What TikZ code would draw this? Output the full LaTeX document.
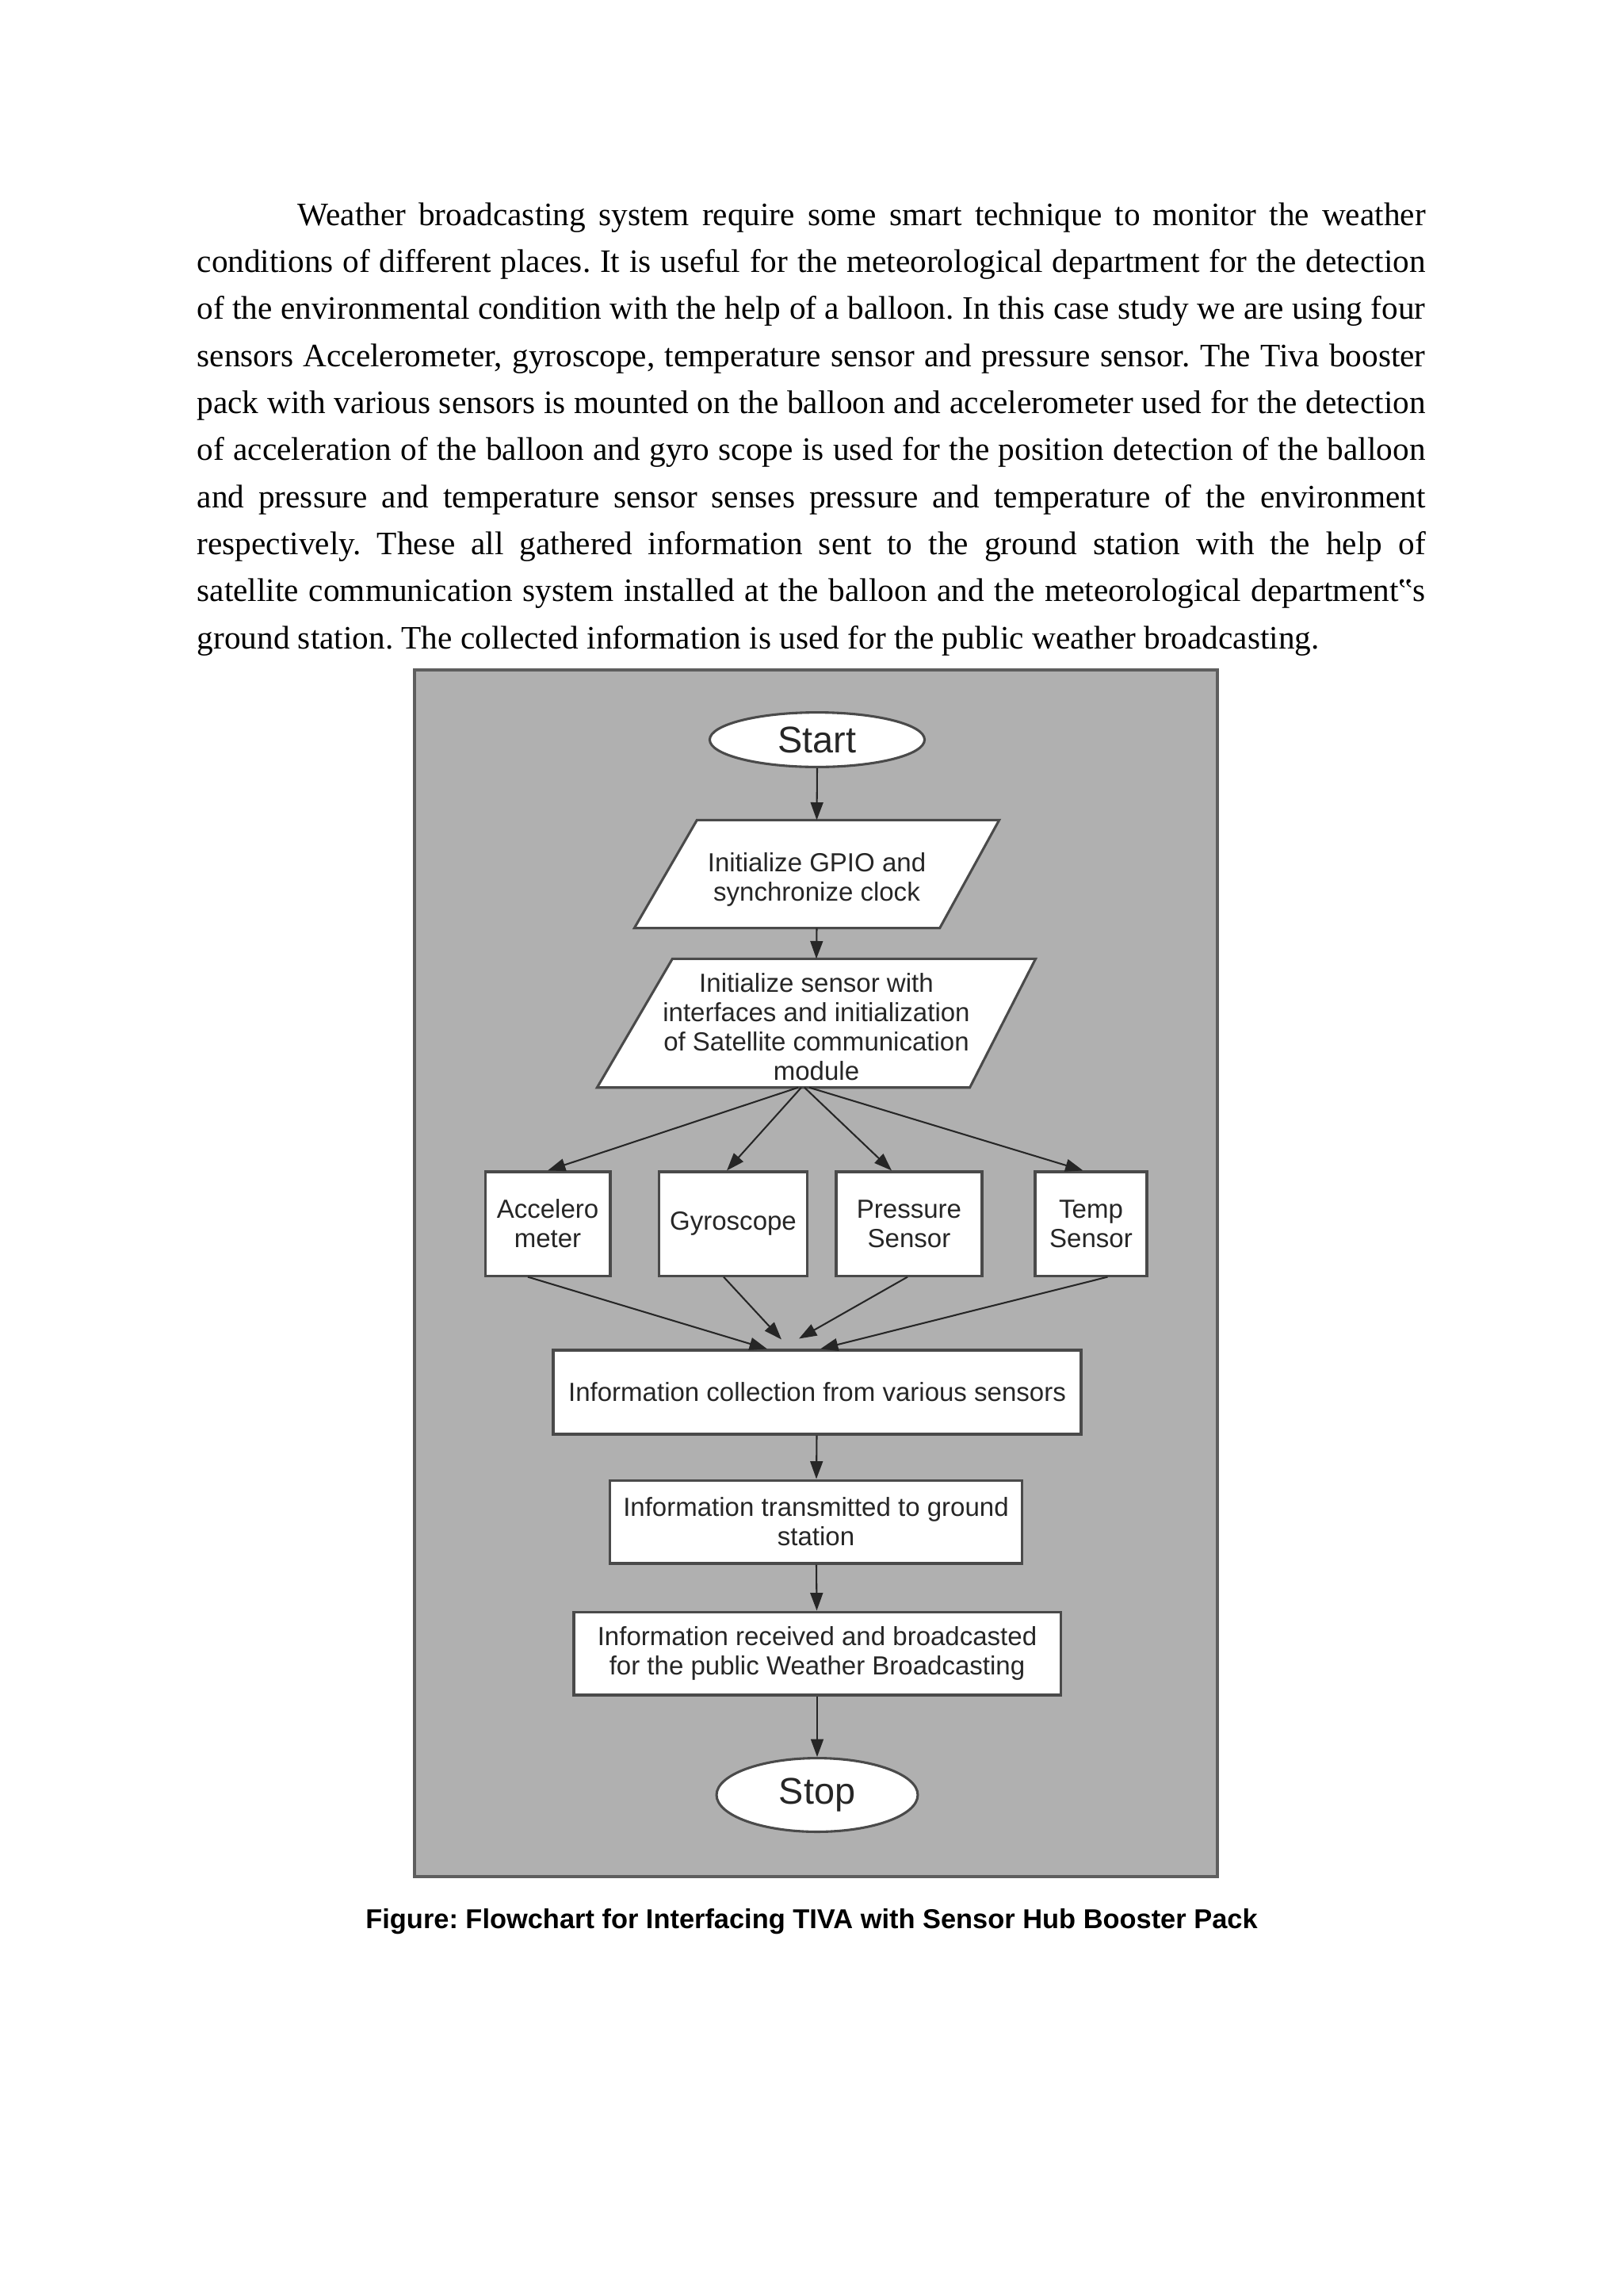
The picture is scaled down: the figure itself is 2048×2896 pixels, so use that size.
\documentclass[tikz,border=0pt]{standalone}
\usepackage{fontspec}
\setmainfont{Liberation Serif}
\newfontfamily\arialfont{Liberation Sans}
\usetikzlibrary{arrows.meta,calc,shapes.geometric}
\pgfdeclarelayer{panel}
\pgfdeclarelayer{shapes}
\pgfsetlayers{panel,shapes,main}
\definecolor{panelgray}{gray}{0.69}
\definecolor{paneledge}{HTML}{5E5E5E}
\definecolor{edgegray}{HTML}{4A4A4A}
\definecolor{inkgray}{HTML}{262626}
\frenchspacing
\begin{document}
\begin{tikzpicture}[x=0.29067pt,y=-0.29067pt,
  bodyline/.style={anchor=base west, inner sep=0pt, font=\fontsize{12}{14}\selectfont},
  flowtext/.style={inner sep=0pt, align=center, text=inkgray, font=\arialfont\fontsize{9.6}{10.8}\selectfont},
  flowbox/.style={flowtext, draw=edgegray, line width=0.9pt, fill=white},
  term/.style={flowbox, ellipse, font=\arialfont\fontsize{13.6}{15}\selectfont},
  shapeline/.style={draw=edgegray, line width=0.9pt, fill=white, line join=miter},
  flowarrow/.style={draw=inkgray, line width=0.6pt, -{Triangle[length=6.5pt,width=4.6pt]}},
]
\begin{pgfonlayer}{panel}
\fill[white] (0,0) rectangle (2048,2896);
\draw[fill=panelgray, draw=paneledge, line width=1pt] (523,845) rectangle (1536,2367);
\end{pgfonlayer}
\useasboundingbox (0,0) rectangle (2048,2896);

% body text
\node[bodyline] (l1) at (375,284) {\makebox[413.6pt][s]{Weather broadcasting system require some smart technique to monitor the weather}};
\node[bodyline] (l2) at (248,343.3) {\makebox[450.5pt][s]{conditions of different places. It is useful for the meteorological department for the detection}};
\node[bodyline] (l3) at (248,402.7) {\makebox[450.5pt][s]{of the environmental condition with the help of a balloon. In this case study we are using four}};
\node[bodyline] (l4) at (248,462) {\makebox[450.5pt][s]{sensors Accelerometer, gyroscope, temperature sensor and pressure sensor. The Tiva booster}};
\node[bodyline] (l5) at (248,521.3) {\makebox[450.5pt][s]{pack with various sensors is mounted on the balloon and accelerometer used for the detection}};
\node[bodyline] (l6) at (248,580.7) {\makebox[450.5pt][s]{of acceleration of the balloon and gyro scope is used for the position detection of the balloon}};
\node[bodyline] (l7) at (248,640) {\makebox[450.5pt][s]{and pressure and temperature sensor senses pressure and temperature of the environment}};
\node[bodyline] (l8) at (248,699.3) {\makebox[450.5pt][s]{respectively. These all gathered information sent to the ground station with the help of}};
\node[bodyline] (l9) at (248,758.7) {\makebox[450.5pt][s]{satellite communication system installed at the balloon and the meteorological department‟s}};
\node[bodyline] (l10) at (248,818) {ground station. The collected information is used for the public weather broadcasting.};

% flowchart nodes
\node[term, minimum width=78.8pt, minimum height=20pt] (start) at (1031,933) {Start};
\node[flowtext, minimum width=133.4pt, minimum height=39.2pt] (p1) at (1030.5,1102.5) {\rule{0pt}{11pt}Initialize GPIO and\\synchronize clock};
\node[flowtext, minimum width=160.4pt, minimum height=46.8pt] (p2) at (1030,1290.5) {\rule{0pt}{9.6pt}Initialize sensor with\\interfaces and initialization\\of Satellite communication\\module};
\begin{pgfonlayer}{shapes}
\draw[shapeline] ($(p1.north west)+(79,0)$) -- (p1.north east) -- ($(p1.south east)+(-75,0)$) -- (p1.south west) -- cycle;
\draw[shapeline] ($(p2.north west)+(95,0)$) -- (p2.north east) -- ($(p2.south east)+(-83,0)$) -- (p2.south west) -- cycle;
\end{pgfonlayer}
\node[flowbox, minimum width=45.9pt, minimum height=38.1pt] (acc) at (691,1543.5) {Accelero\\meter};
\node[flowbox, minimum width=54.1pt, minimum height=38.1pt] (gyro) at (925,1543.5) {Gyroscope};
\node[flowbox, minimum width=53.5pt, minimum height=38.1pt] (press) at (1147,1543.5) {Pressure\\Sensor};
\node[flowbox, minimum width=41.0pt, minimum height=38.1pt] (temp) at (1376.5,1543.5) {Temp\\Sensor};
\node[flowbox, minimum width=193.6pt, minimum height=30.8pt] (info) at (1031,1756) {Information collection from various sensors};
\node[flowbox, minimum width=150.9pt, minimum height=30.5pt] (trans) at (1029.5,1919.5) {Information transmitted to ground\\station};
\node[flowbox, minimum width=178.5pt, minimum height=30.5pt] (recv) at (1031,2085.5) {Information received and broadcasted\\for the public Weather Broadcasting};
\node[term, minimum width=73.8pt, minimum height=27pt] (stop) at (1031,2264) {Stop};

% connectors
\draw[flowarrow] (start.south) -- (p1.north);
\draw[flowarrow] (p1.south) -- (p2.north);
\draw[flowarrow] ($(p2.south)+(-23,0)$) -- (acc.north);
\draw[flowarrow] ($(p2.south)+(-19,0)$) -- ($(gyro.north)+(-8,0)$);
\draw[flowarrow] ($(p2.south)+(-15,0)$) -- ($(press.north)+(-22,0)$);
\draw[flowarrow] ($(p2.south)+(-9,0)$) -- ($(temp.north)+(-10,0)$);
\draw[flowarrow] ($(acc.south)+(-25,0)$) -- ($(info.north)+(-63,0)$);
\draw[flowarrow] ($(gyro.south)+(-12,0)$) -- ($(info.north)+(-45,-12)$);
\draw[flowarrow] ($(press.south)+(-2,0)$) -- ($(info.north)+(-23,-13)$);
\draw[flowarrow] ($(temp.south)+(21,0)$) -- ($(info.north)+(4,0)$);
\draw[flowarrow] (info) -- (trans);
\draw[flowarrow] (trans) -- (recv);
\draw[flowarrow] (recv) -- (stop);

% caption
\node[anchor=base, inner sep=0pt, font=\arialfont\bfseries\fontsize{10}{12}\selectfont] (cap) at (1024,2432) {Figure: Flowchart for Interfacing TIVA with Sensor Hub Booster Pack};
\end{tikzpicture}
\end{document}
